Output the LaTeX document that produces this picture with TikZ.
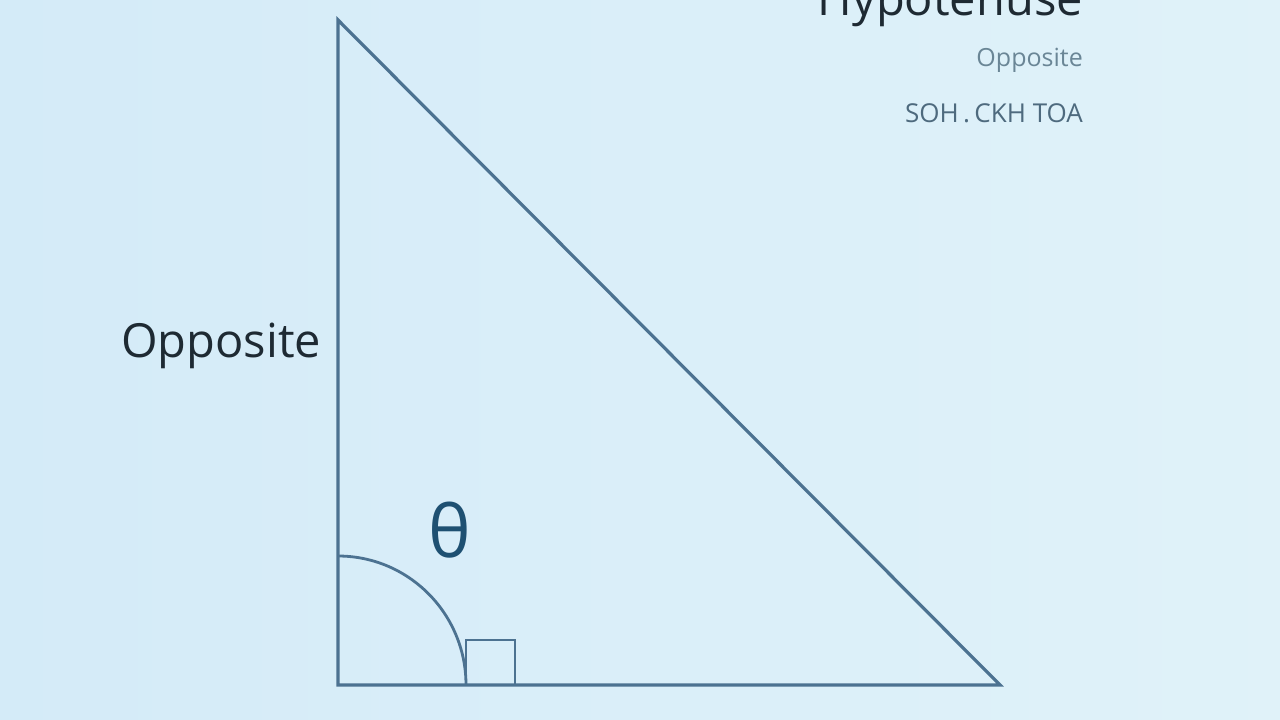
\documentclass[tikz,border=0pt]{standalone}
\usepackage{fontspec}
\setmainfont{Open Sans}
\definecolor{bg}{HTML}{D8EFF8}
\definecolor{edge}{HTML}{4C7291}
\definecolor{thetac}{HTML}{1E5072}
\definecolor{darktext}{HTML}{1E2A33}
\definecolor{greytext}{HTML}{6A8696}
\definecolor{soh}{HTML}{4E6A7E}
\tikzset{
  side/.style={draw=edge, line width=3.2pt, line join=miter},
  thin side/.style={draw=edge, line width=2.8pt},
  biglabel/.style={text=darktext, font=\fontsize{47}{50}\selectfont, inner sep=0pt},
}
\begin{document}
\begin{tikzpicture}[x=1pt,y=-1pt]
\useasboundingbox (0,0) rectangle (1280,720);
\fill[left color=bg!97!blue!60!bg, right color=bg!80!white] (0,0) rectangle (1280,720);
\begin{scope}
\clip (0,0) rectangle (1280,720);
\coordinate (A) at (338,20);
\coordinate (B) at (338,685);
\coordinate (C) at (1000,685);
\draw[side] (A) -- (B) -- (C) -- cycle;
\draw[thin side] (338,556) arc[start angle=90, end angle=0, x radius=128, y radius=-129];
\draw[thin side] (466,685) -- (466,640) -- (515,640) -- (515,685);
\node[anchor=base, text=thetac, inner sep=0pt, font=\fontsize{72}{76}\selectfont] (theta) at (450,557) {θ};
\node[biglabel, anchor=base west] (opp) at (121,357) {Opposite};
\node[biglabel, anchor=base east] (hyp) at (1083,15) {Hypotenuse};
\node[anchor=base east, inner sep=0pt, text=greytext, font=\fontsize{25}{30}\selectfont] (opp2) at (1083,66) {Opposite};
\node[anchor=base east, inner sep=0pt, text=soh, font=\fontsize{26}{30}\selectfont] (soh) at (1083,122) {SOH\,.\,CKH TOA};
\end{scope}
\end{tikzpicture}
\end{document}
